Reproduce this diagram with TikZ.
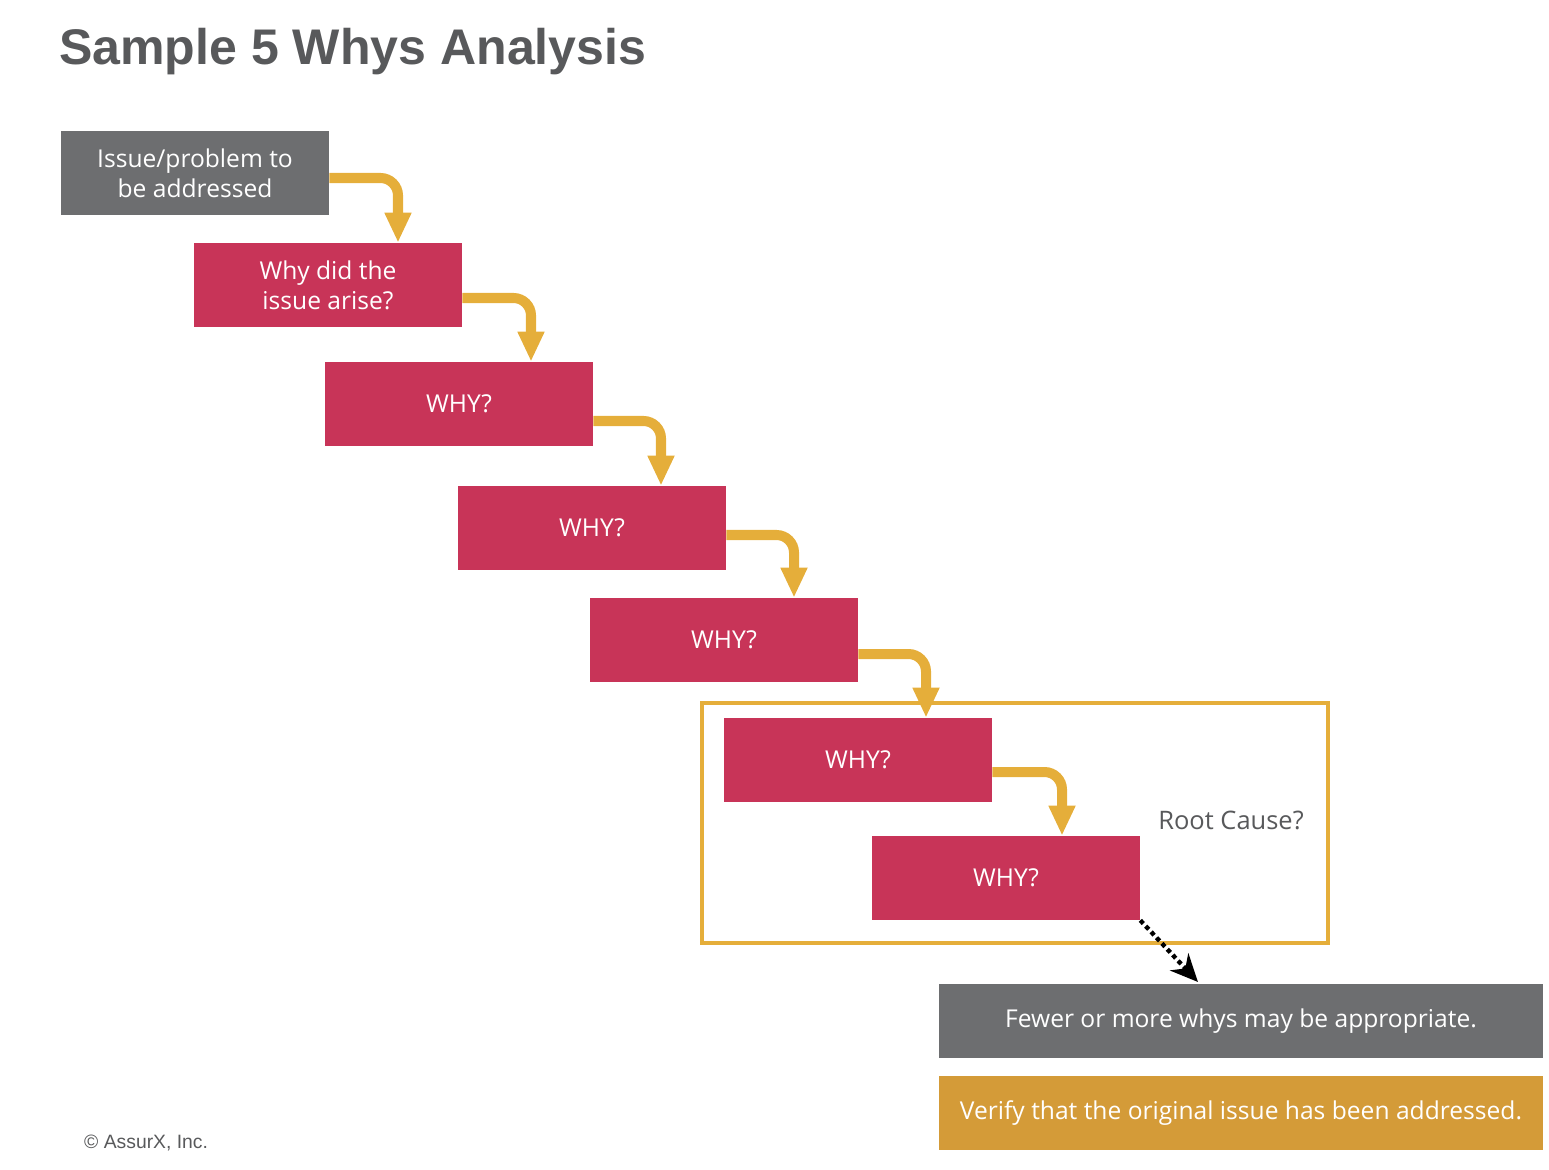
\documentclass[tikz,border=0pt]{standalone}
\usepackage{fontspec}
\setmainfont{Open Sans}
\newfontfamily\titlefont{Liberation Sans}
\usetikzlibrary{arrows.meta}
\definecolor{gr}{HTML}{6D6E70}
\definecolor{rd}{HTML}{C83458}
\definecolor{yo}{HTML}{E5AE3A}
\definecolor{vo}{HTML}{D49B38}
\definecolor{tx}{HTML}{58595B}
\tikzset{
 box/.style={fill=#1,text=white,minimum width=5.36cm,minimum height=1.68cm,inner sep=0pt,align=center,font=\fontsize{14}{17}\selectfont},
 wide/.style={fill=#1,text=white,minimum width=12.1cm,minimum height=1.48cm,inner sep=0pt,font=\fontsize{14}{17}\selectfont},
 flow/.style={yo,line width=5.7pt,rounded corners=0.35cm,-{Triangle[width=0.5cm,length=0.6cm]}}
}
\begin{document}
\begin{tikzpicture}[x=0.02cm,y=-0.02cm]
\useasboundingbox (0,0) rectangle (1549,1170);
\node[anchor=west,text=tx,font=\titlefont\bfseries\fontsize{28.5}{34}\selectfont] (title) at (53,52) {Sample 5 Whys Analysis};
\node[box=gr] (b0) at (195,173) {Issue/problem to\\be addressed};
\node[box=rd] (b1) at (328,285) {Why did the\\issue arise?};
\node[box=rd] (b2) at (459,404) {WHY?};
\node[box=rd] (b3) at (592,528) {WHY?};
\node[box=rd] (b4) at (724,640) {WHY?};
\node[box=rd] (b5) at (858,760) {WHY?};
\node[box=rd] (b6) at (1006,878) {WHY?};
\draw[yo,line width=2.2pt] (702,703) rectangle (1328,943);
\node[text=tx,font=\fontsize{14.5}{17}\selectfont] (rc) at (1231,820) {Root Cause?};
\node[wide=gr] (fw) at (1241,1021) {Fewer or more whys may be appropriate.};
\node[wide=vo] (vf) at (1241,1113) {Verify that the original issue has been addressed.};
\node[anchor=west,text=tx,font=\titlefont\fontsize{11}{13}\selectfont] (cp) at (78,1143) {© AssurX, Inc.};
\draw[flow] (b0.east|-0,178) -- (398,178) -- (b1.north-|398,0);
\draw[flow] (b1.east|-0,298) -- (531,298) -- (b2.north-|531,0);
\draw[flow] (b2.east|-0,421) -- (661,421) -- (b3.north-|661,0);
\draw[flow] (b3.east|-0,535) -- (794,535) -- (b4.north-|794,0);
\draw[flow] (b4.east|-0,654) -- (926,654) -- (b5.north-|926,0);
\draw[flow] (b5.east|-0,772) -- (1062,772) -- (b6.north-|1062,0);
\coordinate (de) at (1198,982);
\draw[black,line width=2.5pt,dotted,-{Stealth[width=0.5cm,length=0.55cm]}] (b6.south east) -- (de);
\end{tikzpicture}
\end{document}
